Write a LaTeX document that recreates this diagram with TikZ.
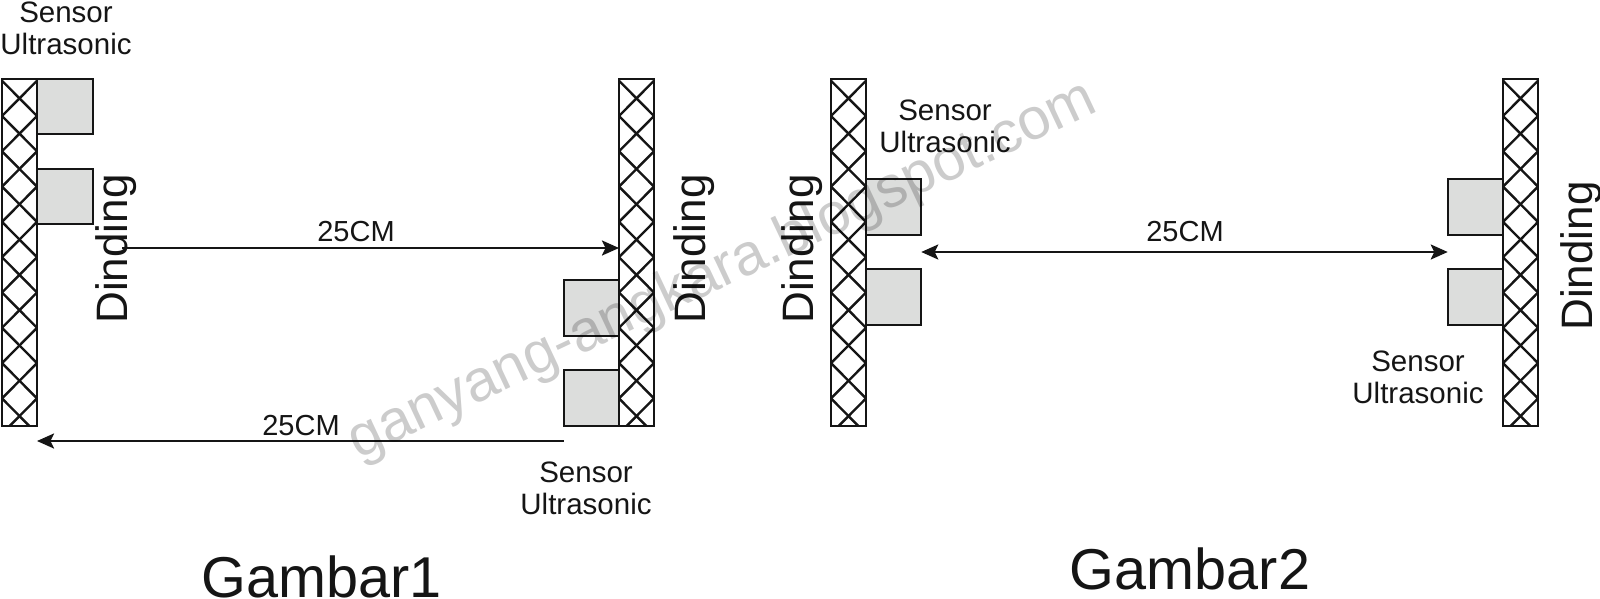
\documentclass[tikz,border=0pt]{standalone}
\usepackage{fontspec}
\setmainfont{Liberation Sans}
\usetikzlibrary{arrows.meta,calc}
\definecolor{ink}{HTML}{151515}
\definecolor{sensorfill}{HTML}{DCDDDC}
\tikzset{
  wallbox/.style={draw=ink,line width=2.6pt,minimum width=35pt,minimum height=347pt,inner sep=0pt,outer sep=0pt},
  sensorbox/.style={draw=ink,fill=sensorfill,line width=2.3pt,minimum width=55.5pt,minimum height=55.5pt,inner sep=0pt,outer sep=0pt},
  dist/.style={draw=ink,line width=2.4pt,-{Stealth[length=17pt,width=15pt,inset=3.5pt]}},
  distboth/.style={draw=ink,line width=2.4pt,{Stealth[length=17pt,width=15pt,inset=3.5pt]}-{Stealth[length=17pt,width=15pt,inset=3.5pt]}},
  sensorlabel/.style={text=ink,align=center,inner sep=0pt,font=\fontsize{29.5}{31.5}\selectfont},
  distlabel/.style={text=ink,inner sep=0pt,font=\fontsize{29}{31}\selectfont},
  walllabel/.style={text=ink,inner sep=0pt,rotate=90,font=\fontsize{44}{46}\selectfont},
  title/.style={text=ink,inner sep=0pt,font=\fontsize{57.6}{60}\selectfont},
  watermark/.style={text=black,text opacity=0.2,inner sep=0pt,rotate=25.2,font=\fontsize{58.5}{60}\selectfont}
}
\newcommand{\hatchwall}[1]{%
  \begin{scope}
    \clip (#1.south west) rectangle (#1.north east);
    \foreach \k in {0,...,9}{
      \draw[ink,line width=2.4pt] ($(#1.north west)+(0,1.7+35.3*\k)$) -- ($(#1.north east)+(0,1.7+35.3*\k+35.3)$);
      \draw[ink,line width=2.4pt] ($(#1.north east)+(0,1.7+35.3*\k)$) -- ($(#1.north west)+(0,1.7+35.3*\k+35.3)$);
    }
  \end{scope}
  \draw[ink,line width=2.6pt] (#1.south west) rectangle (#1.north east);
}
\begin{document}
\begin{tikzpicture}[x=1pt,y=-1pt]
\useasboundingbox (0,0) rectangle (1600,598);
% walls
\node[wallbox] (w1) at (19.5,252.5) {};
\node[wallbox] (w2) at (636.5,252.5) {};
\node[wallbox] (w3) at (848.5,252.5) {};
\node[wallbox] (w4) at (1520.5,252.5) {};
\hatchwall{w1}\hatchwall{w2}\hatchwall{w3}\hatchwall{w4}
% sensors
\node[sensorbox] (s1) at (65,106.5) {};
\node[sensorbox] (s2) at (65,196.5) {};
\node[sensorbox] (s3) at (591.5,308) {};
\node[sensorbox] (s4) at (591.5,398) {};
\node[sensorbox] (s5) at (893.5,207) {};
\node[sensorbox] (s6) at (893.5,297) {};
\node[sensorbox] (s7) at (1475.5,207) {};
\node[sensorbox] (s8) at (1475.5,297) {};
% connector ends
\coordinate (a1s) at (122,248);
\coordinate (a1e) at (w2.west |- a1s);
\coordinate (a2s) at (s4.west |- 0,441);
\coordinate (a2e) at (w1.east |- a2s);
\coordinate (a3s) at (s5.east |- 0,252);
\coordinate (a3e) at (s7.west |- a3s);
\draw[dist] (a1s) -- (a1e);
\draw[dist] (a2s) -- (a2e);
\draw[distboth] (a3s) -- (a3e);
% distance labels
\node[distlabel] (d1) at (356,232) {25CM};
\node[distlabel] (d2) at (301,426) {25CM};
\node[distlabel] (d3) at (1185,232) {25CM};
% wall labels
\node[walllabel] (l1) at (116,249) {Dinding};
\node[walllabel] (l2) at (694.5,249) {Dinding};
\node[walllabel] (l3) at (802,249) {Dinding};
\node[walllabel] (l4) at (1581,256) {Dinding};
% sensor labels
\node[sensorlabel] (t1) at (66,28.5) {Sensor\\Ultrasonic};
\node[sensorlabel] (t2) at (586,488.5) {Sensor\\Ultrasonic};
\node[sensorlabel] (t3) at (945,126.5) {Sensor\\Ultrasonic};
\node[sensorlabel] (t4) at (1418,377.5) {Sensor\\Ultrasonic};
% titles
\node[title] (g1) at (321.5,577) {Gambar1};
\node[title] (g2) at (1190,569) {Gambar2};
% watermark
\node[watermark] (wm) at (723,271) {ganyang-angkara.blogspot.com};
\end{tikzpicture}
\end{document}
